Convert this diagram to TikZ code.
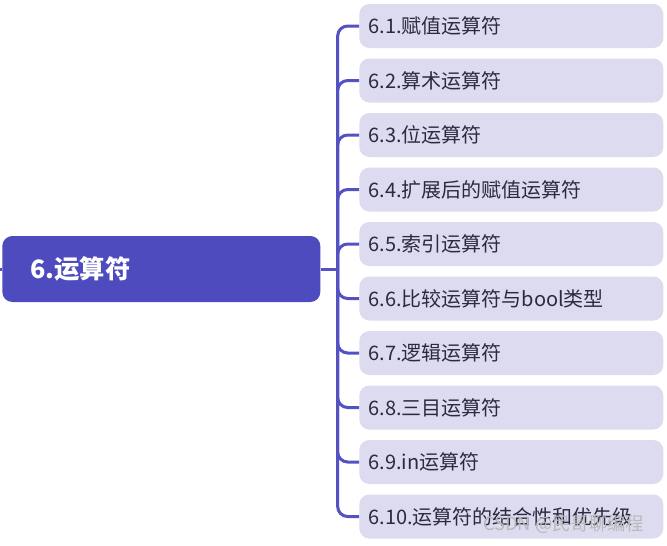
\documentclass[tikz,border=0pt]{standalone}
\usepackage{fontspec}
\setmainfont{Noto Sans CJK SC}
\usetikzlibrary{positioning}
\definecolor{rootblue}{HTML}{4E4BBE}
\definecolor{linkblue}{HTML}{5451C2}
\definecolor{leaffill}{HTML}{DCDBF0}
\definecolor{leaftext}{HTML}{2A2A40}
\tikzset{
  topic/.style ={draw=none,fill=rootblue,rounded corners=6pt,anchor=west,align=left,
                 text width=157.2pt,inner xsep=16.8pt,inner ysep=0pt,minimum height=39.6pt,
                 text=white,font=\fontsize{15.2}{17}\selectfont\bfseries},
  leaf/.style  ={draw=none,fill=leaffill,rounded corners=6pt,align=left,
                 text width=171.6pt,inner xsep=5.4pt,inner ysep=0pt,minimum height=26.4pt,
                 text=leaftext,font=\fontsize{12}{14}\selectfont},
  link/.style  ={draw=linkblue,line width=1.8pt,rounded corners=6pt},
  stamp/.style ={text=gray!55,font=\fontsize{11}{13}\selectfont,anchor=east}
}
\begin{document}
\begin{tikzpicture}[node distance=5.9pt]
  \useasboundingbox (0,0) rectangle (400.2pt,-327pt);
  \node[topic] (root) at (1.2pt,-161.4pt) {6.运算符};
  \node[leaf,anchor=west] (s1) at (215.4pt,-15.6pt) {6.1.赋值运算符};
  \node[leaf,below=of s1]  (s2)  {6.2.算术运算符};
  \node[leaf,below=of s2]  (s3)  {6.3.位运算符};
  \node[leaf,below=of s3]  (s4)  {6.4.扩展后的赋值运算符};
  \node[leaf,below=of s4]  (s5)  {6.5.索引运算符};
  \node[leaf,below=of s5]  (s6)  {6.6.比较运算符与bool类型};
  \node[leaf,below=of s6]  (s7)  {6.7.逻辑运算符};
  \node[leaf,below=of s7]  (s8)  {6.8.三目运算符};
  \node[leaf,below=of s8]  (s9)  {6.9.in运算符};
  \node[leaf,below=of s9]  (s10) {6.10.运算符的结合性和优先级};
  \coordinate (hub) at ([xshift=10.2pt]root.east);
  \coordinate (parent) at (0,-161.4pt);
  % connectors
  \draw[link] (parent) -- (root.west);
  \draw[link] (root.east) -- (hub);
  \foreach \n in {s1,s2,s3,s4,s5,s6,s7,s8,s9,s10}
    \draw[link] (hub) |- (\n.west);
  \node[stamp] (mark) at (390pt,-314.4pt) {CSDN @民哥聊编程};
\end{tikzpicture}
\end{document}
